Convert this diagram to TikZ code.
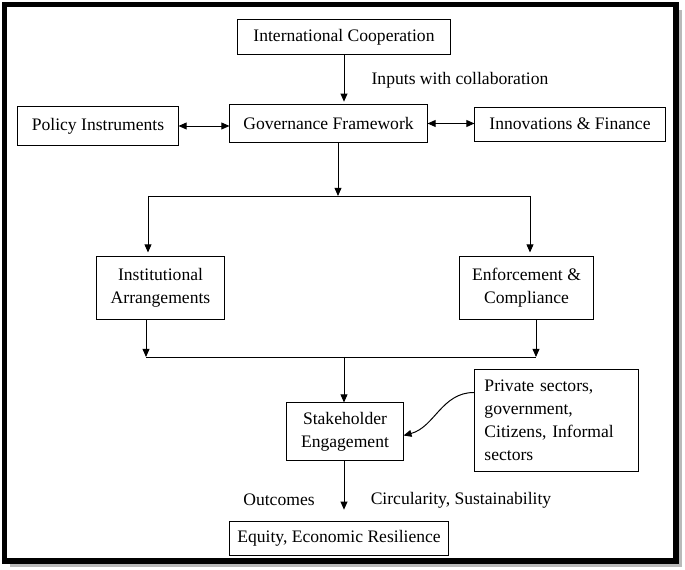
\documentclass[tikz,border=0pt]{standalone}
\usepackage{fontspec}
\setmainfont{Liberation Serif}
\usetikzlibrary{arrows.meta,positioning,calc}

\begin{document}
\begin{tikzpicture}[x=0.025cm,y=-0.025cm,>={Triangle[length=2mm,width=1.7mm]},
  box/.style={draw,line width=0.7pt,align=center,inner sep=2pt,font=\fontsize{12.5}{16.4}\selectfont},
  lbl/.style={font=\fontsize{12.5}{16.4}\selectfont},
  link/.style={line width=0.7pt}]
  \useasboundingbox (0,0) rectangle (685,570);
  % frame with shadow
  \draw[gray!55,line width=3pt] (680,10) -- (680,565) -- (10,565);
  \draw[line width=3.9pt] (4.5,4.5) rectangle (676,561);
  % boxes
  \node[box,minimum width=5.3cm,minimum height=0.85cm] (intl) at (344,37) {International Cooperation};
  \node[box,minimum width=4.925cm,minimum height=0.925cm] (gov) at (328.5,123.5) {Governance Framework};
  \node[box,minimum width=4cm,minimum height=0.95cm] (policy) at (98,126) {Policy Instruments};
  \node[box,minimum width=4.75cm,minimum height=0.85cm] (innov) at (570,124) {Innovations \& Finance};
  \node[box,minimum width=3.175cm,minimum height=1.55cm] (inst) at (160.5,288) {Institutional\\Arrangements};
  \node[box,minimum width=3.325cm,minimum height=1.55cm] (enf) at (526.5,288) {Enforcement \&\\Compliance};
  \node[box,minimum width=2.9cm,minimum height=1.425cm] (stake) at (345,431.5) {Stakeholder\\Engagement};
  \node[box,align=left,text width=3.6cm,inner sep=0.25cm,minimum height=2.525cm] (priv) at (556.5,420.5) {Private sectors,\\government,\\Citizens, Informal\\sectors};
  \node[box,minimum width=5.45cm,minimum height=0.85cm] (equity) at (339,538) {Equity, Economic Resilience};
  % labels
  \node[lbl] (inputs) at (460,80) {Inputs with collaboration};
  \node[lbl] (outc) at (279,500) {Outcomes};
  \node[lbl] (circ) at (461,500) {Circularity, Sustainability};
  % branch points
  \coordinate (split) at (338,196);
  \coordinate (splitL) at (148,196);
  \coordinate (splitR) at (530,196);
  \coordinate (joinL) at (146,357);
  \coordinate (joinR) at (536,357);
  \coordinate (joinM) at (344,357);
  % connectors
  \draw[link,->,shorten >=0.7mm] (intl.south) -- (intl.south |- gov.north);
  \draw[link,<->] (policy.east) -- (policy.east -| gov.west);
  \draw[link,<->] (gov.east) -- (gov.east -| innov.west);
  \draw[link,->] (gov.south -| split) -- (split);
  \draw[link] (splitL) -- (splitR);
  \draw[link,->,shorten >=1mm] (splitL) -- (splitL |- inst.north);
  \draw[link,->,shorten >=1mm] (splitR) -- (splitR |- enf.north);
  \draw[link,->] (inst.south -| joinL) -- (joinL);
  \draw[link,->] (enf.south -| joinR) -- (joinR);
  \draw[link] (joinL) -- (joinR);
  \draw[link,->] (joinM) -- (joinM |- stake.north);
  \draw[link,->] ([yshift=0.7cm]priv.west) to[out=180,in=15] ([yshift=-0.1cm]stake.east);
  \draw[link,->,shorten >=0.27cm] (stake.south -| joinM) -- (joinM |- equity.north);
\end{tikzpicture}
\end{document}
